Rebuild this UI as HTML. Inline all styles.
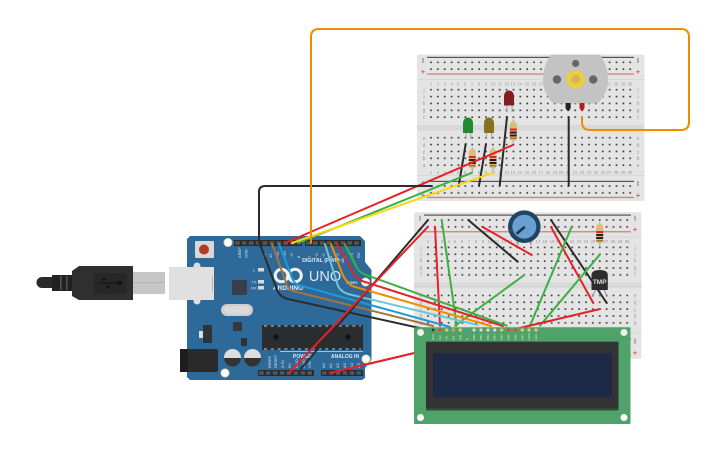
<!DOCTYPE html>
<html><head><meta charset="utf-8"><style>
html,body{margin:0;padding:0;background:#fff;width:725px;height:453px;overflow:hidden}
svg{display:block}
text{font-family:"Liberation Sans",sans-serif}
.w{fill:none;stroke-width:2;stroke-linecap:round;stroke-linejoin:round}
</style></head><body>
<svg width="725" height="453" viewBox="0 0 725 453" xmlns="http://www.w3.org/2000/svg">
<defs>
<pattern id="h1" x="429.9" y="61.2" width="6.87" height="6.87" patternUnits="userSpaceOnUse"><rect x="0.2" y="0.2" width="1.8" height="1.8" rx=".5" fill="#404040"/></pattern>
<pattern id="h2" x="429.9" y="88.6" width="6.87" height="6.87" patternUnits="userSpaceOnUse"><rect x="0.2" y="0.2" width="1.8" height="1.8" rx=".5" fill="#404040"/></pattern>
<pattern id="h3" x="429.9" y="136.6" width="6.87" height="6.87" patternUnits="userSpaceOnUse"><rect x="0.2" y="0.2" width="1.8" height="1.8" rx=".5" fill="#404040"/></pattern>
<pattern id="h4" x="429.9" y="184.9" width="6.87" height="6.87" patternUnits="userSpaceOnUse"><rect x="0.2" y="0.2" width="1.8" height="1.8" rx=".5" fill="#404040"/></pattern>
<g id="nums" font-size="4.2" fill="#9a9a9a" text-anchor="middle">
<text x="431" y="0">1</text><text x="438" y="0">2</text><text x="445" y="0">3</text><text x="452" y="0">4</text><text x="458" y="0">5</text><text x="465" y="0">6</text><text x="472" y="0">7</text><text x="479" y="0">8</text><text x="486" y="0">9</text><text x="493" y="0">10</text><text x="500" y="0">11</text><text x="507" y="0">12</text><text x="513" y="0">13</text><text x="520" y="0">14</text><text x="527" y="0">15</text><text x="534" y="0">16</text><text x="541" y="0">17</text><text x="548" y="0">18</text><text x="555" y="0">19</text><text x="561" y="0">20</text><text x="568" y="0">21</text><text x="575" y="0">22</text><text x="582" y="0">23</text><text x="589" y="0">24</text><text x="596" y="0">25</text><text x="603" y="0">26</text><text x="609" y="0">27</text><text x="616" y="0">28</text><text x="623" y="0">29</text><text x="630" y="0">30</text>
</g>
<g id="bb">
<rect x="417" y="54.5" width="227.5" height="146.5" rx="2" fill="#e4e4e4"/>
<rect x="417" y="79" width="227.5" height="1" fill="#d8d8d8"/>
<rect x="417" y="175" width="227.5" height="1" fill="#d8d8d8"/>
<rect x="417" y="125" width="227.5" height="5.5" fill="#d8d8d8"/>
<rect x="429.9" y="61.2" width="206" height="13" fill="url(#h1)"/>
<rect x="429.9" y="88.6" width="206" height="34" fill="url(#h2)"/>
<rect x="429.9" y="136.6" width="206" height="34" fill="url(#h3)"/>
<rect x="429.9" y="184.9" width="206" height="13" fill="url(#h4)"/>
<rect x="427" y="56.8" width="207" height="1.2" fill="#555"/>
<rect x="427" y="73.4" width="207" height="1.3" fill="#d77d7d"/>
<rect x="427" y="180.8" width="207" height="1.2" fill="#555"/>
<rect x="427" y="196.8" width="207" height="1.3" fill="#d77d7d"/>
<use href="#nums" transform="translate(0,85.5)"/>
<use href="#nums" transform="translate(0,174)"/>
<g font-size="8" fill="#666" text-anchor="middle">
<rect x="422.500" y="58" width="1" height="5" fill="#777"/><rect x="637.500" y="58" width="1" height="5" fill="#777"/>
<rect x="422.500" y="181" width="1" height="5" fill="#777"/><rect x="637.500" y="181" width="1" height="5" fill="#777"/>
<text x="423" y="74.500" fill="#d33">+</text><text x="638" y="74.500" fill="#d33">+</text>
<text x="423" y="198" fill="#d33">+</text><text x="638" y="198" fill="#d33">+</text>
</g>
<g font-size="5" fill="#999" text-anchor="middle">
<text x="424" y="92">j</text><text x="424" y="99">i</text><text x="424" y="105">h</text><text x="424" y="112">g</text><text x="424" y="119">f</text>
<text x="424" y="140">e</text><text x="424" y="147">d</text><text x="424" y="154">c</text><text x="424" y="160">b</text><text x="424" y="167">a</text>
<text x="638" y="92">j</text><text x="638" y="99">i</text><text x="638" y="105">h</text><text x="638" y="112">g</text><text x="638" y="119">f</text>
<text x="638" y="140">e</text><text x="638" y="147">d</text><text x="638" y="154">c</text><text x="638" y="160">b</text><text x="638" y="167">a</text>
</g>
</g>
<g id="res">
<rect x="-0.7" y="-2" width="1.4" height="24" fill="#b5b5b5"/>
<rect x="-3.5" y="0" width="7" height="19.500" rx="3" fill="#dcbb7c"/>
<rect x="-3.500" y="7" width="7" height="2" fill="#e3222a"/>
<rect x="-3.500" y="10" width="7" height="2" fill="#2b2118"/>
<rect x="-3.500" y="13" width="7" height="2" fill="#2b2118"/>
<rect x="-3.500" y="16" width="7" height="1.500" fill="#a0762e"/>
</g>
</defs>

<use href="#bb"/>
<use href="#bb" transform="translate(-3,157.7)"/>

<!-- top board parts -->
<g>
<rect x="465.500" y="130" width="1.200" height="9" fill="#aaa"/><rect x="470" y="130" width="1.200" height="9" fill="#aaa"/>
<path d="M463 133V123a5 5.500 0 0 1 10 0V133z" fill="#1f8a2e"/>
<rect x="486" y="130" width="1.200" height="9" fill="#aaa"/><rect x="491" y="130" width="1.200" height="9" fill="#aaa"/>
<path d="M484 133V123a5 5.500 0 0 1 10 0V133z" fill="#85711f"/>
<rect x="506.500" y="103" width="1.200" height="9" fill="#aaa"/><rect x="511.500" y="103" width="1.200" height="9" fill="#aaa"/>
<path d="M504 105.500V96a5 5.500 0 0 1 10 0V105.500z" fill="#7f1f1f"/>
</g>
<use href="#res" x="472.300" y="149"/>
<use href="#res" x="493" y="149"/>
<use href="#res" x="513.300" y="121.500"/>

<!-- motor -->
<path d="M551 54.500H600Q608 67 608 79Q608 92 600 101Q598 103.500 595 103.500H556Q553 103.500 551 101Q543 92 543 79Q543 67 551 54.500z" fill="#c3c3c3"/>
<circle cx="557" cy="79.500" r="4.200" fill="#666"/><circle cx="593.200" cy="79.500" r="4.200" fill="#666"/><circle cx="575.700" cy="63.500" r="3.600" fill="#666"/>
<circle cx="575.700" cy="79.300" r="8.300" fill="none" stroke="#f0cd33" stroke-width="3.400" stroke-dasharray="2.600 1.750"/>
<circle cx="575.700" cy="79.300" r="7.500" fill="#ecd035"/><circle cx="575.700" cy="79.300" r="4.500" fill="#cdb65c"/>
<path d="M565.500 103h5.200v5l-1.500 2.500h-2.200l-1.500-2.500z" fill="#222"/>
<path d="M579.500 103h5v5l-1.500 2.500h-2l-1.500-2.500z" fill="#b81c1c"/>

<!-- pot / tmp on lower board -->
<g fill="#999"><rect x="517" y="240" width="1.400" height="5"/><rect x="530" y="240" width="1.400" height="5"/></g>
<circle cx="524.300" cy="226.700" r="16.300" fill="#1f4563"/>
<circle cx="524.300" cy="226.700" r="12" fill="#6b9fd2"/>
<path d="M524 227.500L517.500 233" stroke="#1d3344" stroke-width="2.600" stroke-linecap="round"/>
<use href="#res" x="599.700" y="224"/>
<g stroke="#9a9a9a" stroke-width="1.100"><path d="M596 289L592 297"/><path d="M600 289V297"/><path d="M604 289L607 297"/></g>

<!-- board wires -->
<g class="w">
<path stroke="#2b2b2b" d="M458.700 185.700L465.700 144M479 185.700L486 144M499.700 185.700L507 117M568.700 185.700V117"/>
<path stroke="#e3222a" d="M435 226.700L440 325.700M482.300 226.700L531.700 255M551 227L593.300 303"/>
<path stroke="#2b2b2b" d="M468.300 220L517.700 261.700M551 220L606.700 303"/>
<path stroke="#3cb043" d="M441.700 220L456.700 325.700M524.300 275L455 325.700M571.700 226.700L530 325.700M600 254.300L540 325.700"/>
<path stroke="#e3222a" d="M330 373L600 309"/>
</g>

<!-- TMP -->
<path d="M591.500 290V275Q591.500 270 599.700 270Q607.800 270 607.800 275V290z" fill="#2c2c2c"/>
<text x="599.700" y="284" font-size="6.500" font-weight="bold" fill="#ddd" text-anchor="middle">TMP</text>

<!-- USB plug -->
<rect x="133" y="272" width="32" height="22" fill="#c6c6c6"/>
<rect x="133" y="282" width="32" height="1" fill="#b4b4b4"/>
<path d="M42 277H52V288H42a5.500 5.500 0 0 1 0-11z" fill="#2a2a2a"/>
<rect x="52" y="275" width="20" height="16" fill="#222"/>
<rect x="60" y="276" width="1.500" height="14" fill="#555"/><rect x="66" y="276" width="1.500" height="14" fill="#555"/>
<path d="M72 271L79 266H133V300H79L72 296z" fill="#2f2f2f"/>
<rect x="94" y="273" width="33" height="21" fill="#272727"/>
<path d="M99 283H120" stroke="#111" stroke-width="1"/><circle cx="120" cy="283" r="2" fill="#111"/><circle cx="104" cy="279" r="1.600" fill="#111"/><circle cx="108" cy="287" r="1.600" fill="#111"/>

<!-- Arduino -->
<path d="M190 236H360L365 241V262L371.500 270V360L365 368V378L362 380H190L187 377V239z" fill="#2d6a9a"/>
<rect x="195" y="241" width="19" height="17" rx="1" fill="#d8d8d8"/><circle cx="204" cy="249.500" r="5" fill="#b33a26"/>
<circle cx="197" cy="266" r="3.500" fill="#ddd"/><circle cx="197" cy="301" r="3.500" fill="#ddd"/>
<rect x="169" y="267" width="45" height="33" fill="#e0e0e0"/><rect x="212" y="276" width="1" height="16" fill="#bbb"/>
<circle cx="228" cy="242.500" r="4" fill="#fff" stroke="#e8dfae"/><circle cx="365.500" cy="282" r="4" fill="#fff" stroke="#e8dfae"/>
<circle cx="366" cy="359" r="4" fill="#fff" stroke="#e8dfae"/><circle cx="225" cy="373" r="4" fill="#fff" stroke="#e8dfae"/>
<g fill="#2a2a2a"><rect x="234" y="240" width="68" height="6"/><rect x="305" y="240" width="56" height="6"/><rect x="258" y="370" width="56" height="6"/><rect x="321" y="370" width="42" height="6"/></g>
<g stroke="#555" stroke-width="3.400" stroke-dasharray="4.700 2.200" fill="none"><path d="M235 243H301"/><path d="M306 243H360"/><path d="M259 373H313"/><path d="M322 373H362"/></g>
<rect x="232" y="280" width="15" height="15" rx="1" fill="#383f48"/>
<rect x="221" y="304" width="32" height="12" rx="6" fill="#cfcfcf"/><rect x="224" y="306" width="26" height="8" rx="4" fill="#dadada"/>
<rect x="233" y="322" width="9" height="9" fill="#33393f"/>
<rect x="203" y="325" width="9" height="18" fill="#2e3338"/><rect x="199" y="331" width="4" height="7" fill="#ddd"/>
<rect x="241" y="338" width="6" height="8" fill="#2e3338"/>
<rect x="262" y="325" width="101" height="25" fill="#2a2d30"/>
<path d="M264 326H361M264 349H361" stroke="#ccc" stroke-width="1" stroke-dasharray="3 3.800"/>
<circle cx="276" cy="337" r="2.600" fill="#111"/><circle cx="348" cy="337" r="2.600" fill="#111"/>
<path d="M180 349h36q2 0 2 2v19q0 2-2 2h-36z" fill="#2a2a2a"/><rect x="180" y="349" width="8" height="23" fill="#1e1e1e"/>
<circle cx="232.500" cy="357.500" r="8.500" fill="#ddd"/><path d="M224 358a8.500 8.500 0 0 0 17 0z" fill="#333"/>
<circle cx="252.500" cy="357.500" r="8.500" fill="#ddd"/><path d="M244 358a8.500 8.500 0 0 0 17 0z" fill="#333"/>
<circle cx="281.500" cy="275.500" r="6.300" fill="none" stroke="#f0f0f0" stroke-width="3"/><circle cx="295" cy="275.500" r="6.300" fill="none" stroke="#f0f0f0" stroke-width="3"/>
<text x="288" y="290" font-size="6.500" font-weight="bold" fill="#e6eef5" text-anchor="middle">ARDUINO</text>
<text x="325" y="281" font-size="14.500" fill="#dfe9f2" text-anchor="middle">UNO</text>
<text x="323" y="262" font-size="5.300" font-weight="bold" fill="#dfe9f2" text-anchor="middle">DIGITAL (PWM~)</text>
<text x="352" y="284" font-size="3.800" font-weight="bold" fill="#dfe9f2" text-anchor="middle">ICSP2</text>
<text x="293" y="358" font-size="5" font-weight="bold" fill="#dfe9f2">POWER</text>
<text x="331" y="358" font-size="5" font-weight="bold" fill="#dfe9f2">ANALOG IN</text>
<g fill="#d9d9d9"><rect x="258" y="268" width="6" height="3.500"/><rect x="258" y="280" width="6" height="3.500"/><rect x="258" y="286" width="6" height="3.500"/></g>
<g font-size="4" fill="#dfe9f2" text-anchor="middle"><text x="254" y="271.500">L</text><text x="254" y="283.500">TX</text><text x="254" y="289.500">RX</text></g>
<path d="M280 351.500H363" stroke="#cfdce8" stroke-width=".7"/>
<g font-size="4" fill="#dfe9f2">
<text transform="translate(241,258) rotate(-90)">AREF</text><text transform="translate(247.500,258) rotate(-90)">GND</text><text transform="translate(266,258) rotate(-90)">13</text><text transform="translate(272,258) rotate(-90)">12</text>
<text transform="translate(279,258) rotate(-90)">~11</text><text transform="translate(286,258) rotate(-90)">~10</text><text transform="translate(293,258) rotate(-90)">~9</text><text transform="translate(300,258) rotate(-90)">8</text>
<text transform="translate(311,258) rotate(-90)">7</text><text transform="translate(318,258) rotate(-90)">~6</text><text transform="translate(325,258) rotate(-90)">~5</text><text transform="translate(332,258) rotate(-90)">4</text><text transform="translate(339,258) rotate(-90)">~3</text><text transform="translate(346,258) rotate(-90)">2</text><text transform="translate(353,258) rotate(-90)">TX</text><text transform="translate(360,258) rotate(-90)">RX</text>
<text transform="translate(271,368) rotate(-90)">IOREF</text><text transform="translate(277,368) rotate(-90)">RESET</text><text transform="translate(284,368) rotate(-90)">3.3V</text><text transform="translate(291,368) rotate(-90)">5V</text><text transform="translate(298,368) rotate(-90)">GND</text><text transform="translate(305,368) rotate(-90)">GND</text><text transform="translate(311,368) rotate(-90)">VIN</text>
<text transform="translate(325,368) rotate(-90)">A0</text><text transform="translate(332,368) rotate(-90)">A1</text><text transform="translate(339,368) rotate(-90)">A2</text><text transform="translate(346,368) rotate(-90)">A3</text><text transform="translate(353,368) rotate(-90)">A4</text><text transform="translate(360,368) rotate(-90)">A5</text>
</g>

<!-- Arduino A0 wire visible on top -->
<path class="w" stroke="#e3222a" d="M330 373L413 353.300"/>

<!-- Arduino to breadboard / lcd wires -->
<g class="w">
<path stroke="#2b2b2b" d="M260 244L277 290Q280 297 288 299L433 331"/>
<path stroke="#a5743d" d="M272 244L287 285Q289 291 297 292L433 326"/>
<path stroke="#1a9ad6" d="M279 244L293 280Q295 285 302 286L450 327"/>
<path stroke="#6fc7cf" d="M325 244L337 283Q339 291 348 294L477.700 325"/>
<path stroke="#f08c00" d="M331 244L342 273Q345 281 352 286L491 326"/>
<path stroke="#e3222a" d="M337 244L352 270Q356 279 362 281L503 326"/>
<path stroke="#3cb043" d="M344.700 244L357 268Q361 274 370 276.400L506.700 325.700"/>
<path stroke="#2b2b2b" d="M300.700 369L428 220"/>
<path stroke="#e3222a" d="M289 373L428 226.700"/>
<path stroke="#e3222a" d="M285 243L513 145"/>
<path stroke="#3cb043" d="M298 243L472 172.700"/>
<path stroke="#f5d80f" d="M292 243L493 172.700"/>
<path stroke="#2b2b2b" d="M259 243V192Q259 186 265 186H432"/>
<path stroke="#f08c00" d="M311 243V37Q311 29 319 29H681Q689 29 689 37V122Q689 130 681 130H590Q582 130 582 122V117"/>
</g>

<!-- LCD -->
<rect x="414" y="327.300" width="216.500" height="96.700" rx="1" fill="#4fa36a"/>
<circle cx="420.500" cy="332.500" r="3.500" fill="#eee"/><circle cx="624" cy="332.500" r="3.500" fill="#eee"/>
<circle cx="420.500" cy="417.500" r="3.500" fill="#fff"/><circle cx="624" cy="417.500" r="3.500" fill="#fff"/>
<rect x="426" y="341.700" width="192.500" height="67.600" fill="#333"/><rect x="426" y="408" width="192.500" height="2.400" fill="#2c4a38"/>
<rect x="433" y="353.300" width="178.700" height="44" fill="#1c2a48"/>
<g fill="#d7d08a" stroke="#7f9f5a" stroke-width=".6">
<circle cx="433" cy="330" r="1.800" fill="#3a3a2a"/><circle cx="440" cy="330" r="1.800" fill="#e33"/><circle cx="446.700" cy="330" r="1.800"/><circle cx="453.300" cy="330" r="1.800" fill="#d0a060"/><circle cx="460.300" cy="330" r="1.800"/><circle cx="467" cy="330" r="1.800" fill="#2a9ad6"/><circle cx="474" cy="330" r="1.800" fill="#ddd"/><circle cx="481" cy="330" r="1.800" fill="#ddd"/><circle cx="488" cy="330" r="1.800" fill="#ddd"/><circle cx="494.700" cy="330" r="1.800" fill="#ddd"/><circle cx="501.700" cy="330" r="1.800"/><circle cx="508.300" cy="330" r="1.800" fill="#e33"/><circle cx="515.300" cy="330" r="1.800" fill="#e33"/><circle cx="522.300" cy="330" r="1.800"/><circle cx="529" cy="330" r="1.800"/><circle cx="536" cy="330" r="1.800"/>
</g>
<g font-size="3" fill="#dfeee3">
<text transform="translate(434,340) rotate(-90)">Gnd</text><text transform="translate(441,340) rotate(-90)">Vcc</text><text transform="translate(447.700,340) rotate(-90)">V0</text><text transform="translate(454.300,340) rotate(-90)">RS</text><text transform="translate(461.300,340) rotate(-90)">RW</text><text transform="translate(468,340) rotate(-90)">E</text><text transform="translate(475,340) rotate(-90)">DB0</text><text transform="translate(482,340) rotate(-90)">DB1</text><text transform="translate(489,340) rotate(-90)">DB2</text><text transform="translate(495.700,340) rotate(-90)">DB3</text><text transform="translate(502.700,340) rotate(-90)">DB4</text><text transform="translate(509.300,340) rotate(-90)">DB5</text><text transform="translate(516.300,340) rotate(-90)">DB6</text><text transform="translate(523.300,340) rotate(-90)">DB7</text><text transform="translate(530,340) rotate(-90)">LED+</text><text transform="translate(537,340) rotate(-90)">LED-</text>
</g>
</svg>
</body></html>
